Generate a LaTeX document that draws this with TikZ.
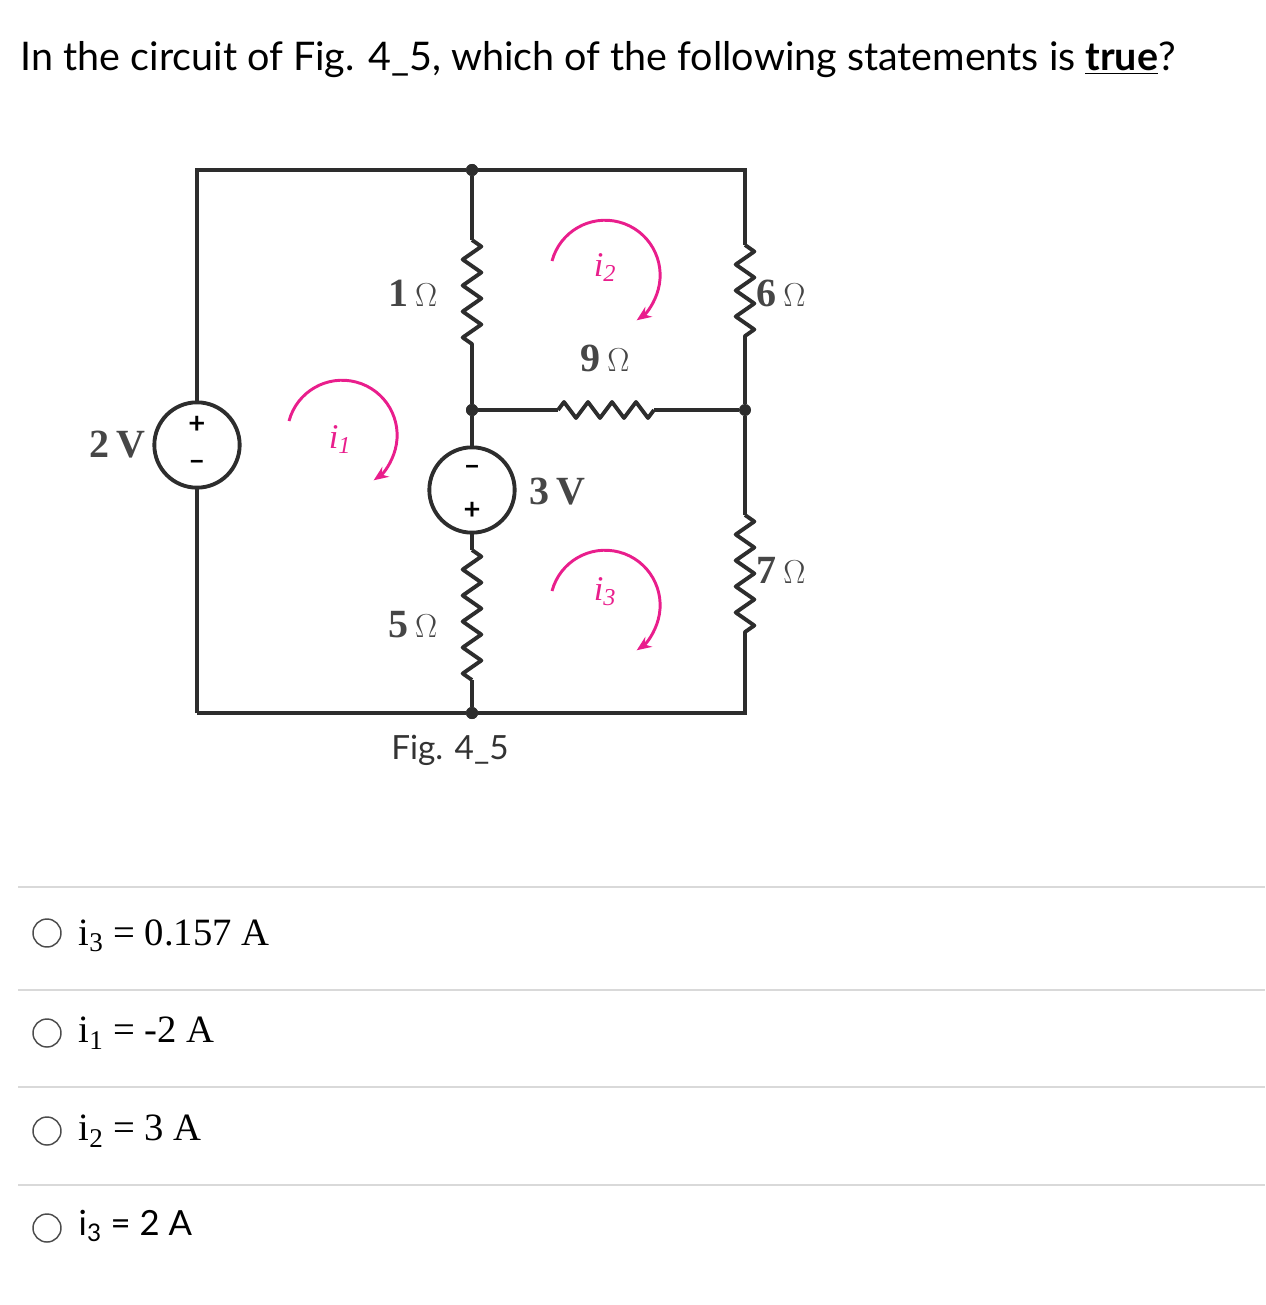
\documentclass[tikz,border=0pt]{standalone}
\usepackage{fontspec}
\setmainfont{Lato}
\newfontfamily\tnr{Liberation Serif}
\usetikzlibrary{decorations.pathmorphing,arrows.meta}
\definecolor{pinkc}{RGB}{233,30,140}
\definecolor{wirec}{RGB}{45,45,45}
\definecolor{labc}{RGB}{70,70,70}
\tikzset{
 wire/.style={draw=wirec,line width=2.9pt},
 res/.style={wire,line join=round,decorate,decoration={zigzag,amplitude=7pt,segment length=19.5pt,pre length=0pt,post length=0pt}},
 hres/.style={wire,line join=round,decorate,decoration={zigzag,amplitude=6pt,segment length=18pt,pre length=0pt,post length=0pt}},
 src/.style={circle,draw=wirec,line width=2.9pt,fill=white,minimum size=64pt,inner sep=0pt},
 dotn/.style={circle,fill=wirec,inner sep=0pt,minimum size=9pt},
 lab/.style={text=labc,font=\tnr\fontsize{30}{32}\selectfont\bfseries},
 pm/.style={font=\bfseries\fontsize{22}{22}\selectfont},
 mesh/.style={draw=pinkc,line width=2.2pt,-{Stealth[length=11pt,width=9pt]}},
 ml/.style={text=pinkc,font=\tnr\itshape\fontsize{26}{28}\selectfont},
 opt/.style={font=\tnr\fontsize{29}{32}\selectfont,anchor=west},
 radio/.style={circle,draw=black!70,line width=1.1pt,minimum size=21pt,inner sep=0pt},
 sep/.style={draw=black!15,line width=1pt}
}
\begin{document}
\begin{tikzpicture}[x=0.75pt,y=-0.75pt]
\useasboundingbox (0,0) rectangle (1265,1305);
\node[anchor=west,font=\fontsize{29.6}{32}\selectfont] (q) at (16,60) {In the circuit of Fig. 4\_5, which of the following statements is \underline{\textbf{true}}?};
\coordinate (tl) at (197,170); \coordinate (tr) at (745,170);
\coordinate (bl) at (197,713); \coordinate (br) at (745,713);
\node[dotn] (tm) at (472,170) {};
\node[dotn] (mm) at (472,410) {};
\node[dotn] (mr) at (745,410) {};
\node[dotn] (bm) at (472,713) {};
\coordinate (r1a) at (472,240); \coordinate (r1b) at (472,345);
\coordinate (r6a) at (745,245); \coordinate (r6b) at (745,345);
\coordinate (r9a) at (558,410); \coordinate (r9b) at (654,410);
\coordinate (r5a) at (472,550); \coordinate (r5b) at (472,680);
\coordinate (r7a) at (745,515); \coordinate (r7b) at (745,640);
\path[wire] (bl) -- (tl) -- (tm) -- (tr) -- (r6a);
\path[wire] (r6b) -- (mr) -- (r7a);
\path[wire] (r7b) -- (br) -- (bm) -- (bl);
\path[wire] (tm) -- (r1a); \path[wire] (r1b) -- (mm) -- (r9a); \path[wire] (r9b) -- (mr);
\path[wire] (mm) -- (r5a); \path[wire] (r5b) -- (bm);
\path[res] (r1a) -- (r1b); \path[res] (r6a) -- (r6b); \path[res] (r5a) -- (r5b); \path[res] (r7a) -- (r7b);
\path[hres] (r9a) -- (r9b);
\node[src] (v2) at (197,445) {};
\node[pm] at (197,425) {+};
\node[pm] at (197,465) {--};
\node[src] (v3) at (472,490) {};
\node[pm] at (472,470) {--};
\node[pm] at (472,511) {+};
\node[dotn] at (mm) {};
\node[dotn] at (tm) {};
\node[dotn] at (bm) {};
\node[lab,anchor=east] (l2) at (150,445) {2\,V};
\node[lab,anchor=west] (l3) at (525,492) {3\,V};
\node[lab,anchor=east] (l1) at (442,293) {1\,$\Omega$};
\node[lab,anchor=west] (l6) at (752,293) {6\,$\Omega$};
\node[lab] (l9) at (605,358) {9\,$\Omega$};
\node[lab,anchor=west] (l7) at (752,570) {7\,$\Omega$};
\node[lab,anchor=east] (l5) at (442,625) {5\,$\Omega$};
\node[font=\fontsize{25}{27}\selectfont,text=black!80] (fig) at (450,750) {Fig. 4\_5};
\draw[mesh] (289,421) arc[start angle=195,end angle=415,radius=55];
\node[ml] at (340,440) {i\textsubscript{1}};
\draw[mesh] (552,261) arc[start angle=195,end angle=415,radius=55];
\node[ml] at (605,268) {i\textsubscript{2}};
\draw[mesh] (552,591) arc[start angle=195,end angle=415,radius=55];
\node[ml] at (605,592) {i\textsubscript{3}};
\path[sep] (18,887) -- (1265,887);
\path[sep] (18,990) -- (1265,990);
\path[sep] (18,1087) -- (1265,1087);
\path[sep] (18,1185) -- (1265,1185);
\node[radio] (o1) at (47,933) {};
\node[radio] (o2) at (47,1033) {};
\node[radio] (o3) at (47,1131) {};
\node[radio] (o4) at (47,1228) {};
\node[opt] at (74,936) {i\textsubscript{3} = 0.157 A};
\node[opt] at (74,1033) {i\textsubscript{1} = -2 A};
\node[opt] at (74,1131) {i\textsubscript{2} = 3 A};
\node[anchor=west,font=\fontsize{26}{30}\selectfont] at (74,1226) {i\textsubscript{3} = 2 A};
\end{tikzpicture}
\end{document}
